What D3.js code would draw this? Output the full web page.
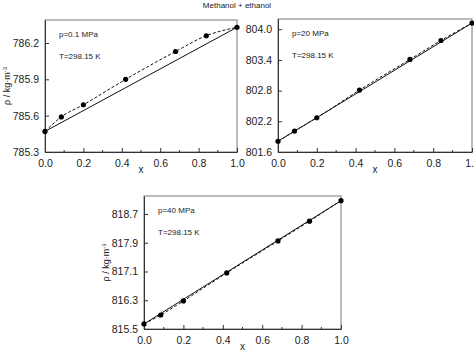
<!DOCTYPE html>
<html>
<head>
<meta charset="utf-8">
<script src="https://cdn.jsdelivr.net/npm/d3@7"></script>
<style>
    body { margin: 0; background: #fff; }
    text { font-family: "Liberation Sans", Arial, sans-serif; fill: #222; }
</style>
</head>
<body>
<div class="chart"></div>
<script>
// mole fraction of methanol
const xFrac = [0, 0.085, 0.2, 0.42, 0.68, 0.84, 1.0];
const xTicks = [0, 0.2, 0.4, 0.6, 0.8, 1.0];
const xMinorTicks = [0.1, 0.3, 0.5, 0.7, 0.9];

// densities (kg/m3)
const rho01 = [785.47, 785.59, 785.69, 785.90, 786.13, 786.26, 786.33];
const rho20 = [801.81, 802.01, 802.27, 802.81, 803.41, 803.78, 804.12];
const rho40 = [815.64, 815.89, 816.28, 817.06, 817.95, 818.50, 819.07];

const yTicks01 = [785.3, 785.6, 785.9, 786.2];
const yTicks20 = [801.6, 802.2, 802.8, 803.4, 804.0];
const yTicks40 = [815.5, 816.3, 817.1, 817.9, 818.7];

const pressures = ["p=0.1 MPa", "p=20 MPa", "p=40 MPa"];
const temperature = "T=298.15 K";

const totalWidth = 474;
const totalHeight = 353;

// panel boxes
const panels = [
    { left: 45, top: 20, width: 192, height: 132, rho: rho01, ticks: yTicks01, yMax: 786.39, label: pressures[0], ylab: true },
    { left: 278, top: 19, width: 194, height: 133, rho: rho20, ticks: yTicks20, yMax: 804.2, label: pressures[1], ylab: false },
    { left: 144, top: 196, width: 197, height: 133, rho: rho40, ticks: yTicks40, yMax: 819.2, label: pressures[2], ylab: true },
];

const svg = d3
    .select(".chart")
    .append("svg")
    .attr("width", totalWidth)
    .attr("height", totalHeight);

svg.append("text")
    .attr("x", 237)
    .attr("y", 8)
    .attr("text-anchor", "middle")
    .attr("font-size", "8px")
    .text("Methanol + ethanol");

function drawPanel(p) {
    const g = svg.append("g").attr("transform", `translate(${p.left},${p.top})`);

    const x = d3.scaleLinear().domain([0, 1]).range([0, p.width]);
    const y = d3.scaleLinear().domain([p.ticks[0], p.yMax]).range([p.height, 0]);

    // frame
    g.append("rect")
        .attr("width", p.width)
        .attr("height", p.height)
        .attr("fill", "none")
        .attr("stroke", "#777")
        .attr("stroke-width", 1);

    const xAxis = g.append("g")
        .attr("transform", `translate(0,${p.height})`)
        .call(d3.axisBottom(x).tickValues(xTicks).tickFormat(d3.format(".1f")).tickSizeInner(-4).tickSizeOuter(0).tickPadding(8));
    xAxis.append("g").selectAll("line")
        .data(xMinorTicks)
        .join("line")
        .attr("x1", (d) => x(d))
        .attr("x2", (d) => x(d))
        .attr("y1", 0)
        .attr("y2", -2)
        .attr("stroke", "#333");

    const yAxis = g.append("g")
        .call(d3.axisLeft(y).tickValues(p.ticks).tickFormat(d3.format(".1f")).tickSizeInner(-4).tickSizeOuter(0).tickPadding(6));

    [xAxis, yAxis].forEach((a) => {
        a.select(".domain").attr("stroke", "#333");
        a.selectAll(".tick line").attr("stroke", "#333");
        a.selectAll(".tick text").attr("font-size", "10.5px").attr("fill", "#222")
            .attr("font-family", "'Liberation Sans', Arial, sans-serif");
    });

    // ideal mixing line between pure components
    const n = xFrac.length - 1;
    g.append("line")
        .attr("x1", x(xFrac[0]))
        .attr("y1", y(p.rho[0]))
        .attr("x2", x(xFrac[n]))
        .attr("y2", y(p.rho[n]))
        .attr("stroke", "#111")
        .attr("stroke-width", 1);

    // dashed fit through the measurements
    const line = d3.line()
        .x((d, i) => x(xFrac[i]))
        .y((d) => y(d))
        .curve(d3.curveMonotoneX);
    g.append("path")
        .datum(p.rho)
        .attr("d", line)
        .attr("fill", "none")
        .attr("stroke", "#111")
        .attr("stroke-width", 1)
        .attr("stroke-dasharray", "3,2");

    g.selectAll("circle")
        .data(p.rho)
        .join("circle")
        .attr("cx", (d, i) => x(xFrac[i]))
        .attr("cy", (d) => y(d))
        .attr("r", 2.6)
        .attr("fill", "#000");

    g.append("text")
        .attr("x", 14)
        .attr("y", 17)
        .attr("font-size", "8px")
        .text(p.label);
    g.append("text")
        .attr("x", 14)
        .attr("y", 39)
        .attr("font-size", "8px")
        .text(temperature);

    g.append("text")
        .attr("x", p.width / 2)
        .attr("y", p.height + 21)
        .attr("text-anchor", "middle")
        .attr("font-size", "10px")
        .text("x");

    if (p.ylab) {
        const t = g.append("text")
            .attr("transform", `translate(${-35},${p.height / 2}) rotate(-90)`)
            .attr("text-anchor", "middle")
            .attr("font-size", "9px");
        t.append("tspan").text("ρ / kg·m");
        t.append("tspan").attr("dy", -3).attr("font-size", "6px").text("-3");
    }
}

panels.forEach(drawPanel);
</script>
</body>
</html>
